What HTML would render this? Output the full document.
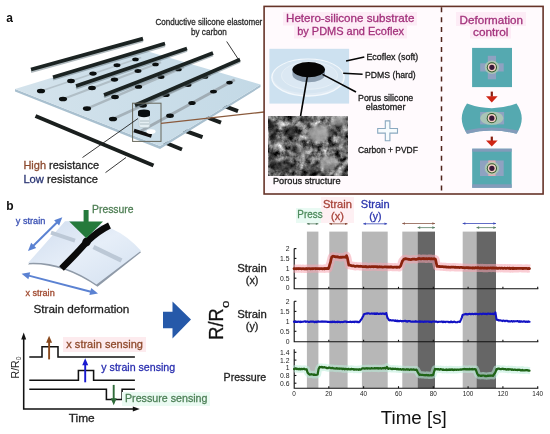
<!DOCTYPE html>
<html><head><meta charset="utf-8"><title>Figure</title>
<style>
html,body{margin:0;padding:0;background:#fff;}
body{width:550px;height:434px;overflow:hidden;}
svg{display:block;font-family:"Liberation Sans",sans-serif;filter:blur(0.5px);}
</style></head><body>
<svg width="550" height="434" viewBox="0 0 550 434">
<defs>
<filter id="sem" x="0" y="0" width="100%" height="100%" color-interpolation-filters="sRGB">
<feTurbulence type="fractalNoise" baseFrequency="0.14 0.14" numOctaves="4" seed="5" result="n"/>
<feColorMatrix in="n" type="matrix" values="1.05 1.05 0 0 -0.63  1.05 1.05 0 0 -0.63  1.05 1.05 0 0 -0.63  0 0 0 0 1"/>
</filter>
<linearGradient id="sheetg" x1="0" y1="0" x2="1" y2="0">
<stop offset="0" stop-color="#d4e3ec"/><stop offset="1" stop-color="#c3d9e6"/>
</linearGradient>
<linearGradient id="curvg" x1="0" y1="0" x2="1" y2="1">
<stop offset="0" stop-color="#cfdcee"/><stop offset="0.5" stop-color="#e6eef8"/><stop offset="1" stop-color="#d3e0f0"/>
</linearGradient>
<linearGradient id="semshade" x1="0" y1="0" x2="1" y2="0"><stop offset="0" stop-color="#000" stop-opacity="0.45"/><stop offset="0.35" stop-color="#000" stop-opacity="0.12"/><stop offset="1" stop-color="#000" stop-opacity="0.05"/></linearGradient>
<radialGradient id="semlight"><stop offset="0" stop-color="#bbb" stop-opacity="0.6"/><stop offset="1" stop-color="#bbb" stop-opacity="0"/></radialGradient>
<clipPath id="semclip"><rect x="268.7" y="116.3" width="79.1" height="59.6"/></clipPath>
<filter id="blur2" x="-20%" y="-20%" width="140%" height="140%"><feGaussianBlur stdDeviation="1.8"/></filter>
<radialGradient id="glow"><stop offset="0.55" stop-color="#bfe3b0"/><stop offset="1" stop-color="#bfe3b0" stop-opacity="0"/></radialGradient>
</defs>
<rect width="550" height="434" fill="#fff"/>

<g id="panel-a-sheet">
<line x1="35.5" y1="116" x2="153.5" y2="165.5" stroke="#1a1f1e" stroke-width="4"/>
<line x1="120" y1="124" x2="182" y2="149.5" stroke="#1a1f1e" stroke-width="4"/>
<line x1="150" y1="118" x2="202.5" y2="137.2" stroke="#1a1f1e" stroke-width="4"/>
<line x1="180" y1="107" x2="221" y2="122.6" stroke="#1a1f1e" stroke-width="4"/>
<line x1="200" y1="97" x2="238" y2="111.2" stroke="#1a1f1e" stroke-width="4"/>
<polygon points="15,89 160,146 260.5,84.6 260.5,87.1 160,149 15,91.5" fill="#a9c0cf"/>
<polygon points="15,89 143,50 260.5,84.6 160,146" fill="url(#sheetg)"/>
<line x1="41" y1="91" x2="141.2" y2="57.5" stroke="#b6c4cc" stroke-width="1.80"/>
<line x1="63" y1="99" x2="161.1" y2="62.3" stroke="#b0bec6" stroke-width="2.10"/>
<line x1="87" y1="108.6" x2="184.0" y2="67.2" stroke="#abb8c0" stroke-width="2.40"/>
<line x1="113" y1="119" x2="210.5" y2="74.5" stroke="#a5b2ba" stroke-width="2.70"/>
<line x1="141" y1="131" x2="234.8" y2="79.7" stroke="#a0acb4" stroke-width="3.00"/>
<ellipse cx="41" cy="91" rx="4.10" ry="2.30" fill="#0b0f0f"/>
<ellipse cx="71" cy="81" rx="3.89" ry="2.18" fill="#0b0f0f"/>
<ellipse cx="93" cy="73.6" rx="3.69" ry="2.07" fill="#0b0f0f"/>
<ellipse cx="117" cy="65.3" rx="3.48" ry="1.95" fill="#0b0f0f"/>
<ellipse cx="135.5" cy="59.4" rx="3.28" ry="1.84" fill="#0b0f0f"/>
<ellipse cx="63" cy="99" rx="4.10" ry="2.30" fill="#0b0f0f"/>
<ellipse cx="92" cy="88" rx="3.89" ry="2.18" fill="#0b0f0f"/>
<ellipse cx="114.5" cy="79.6" rx="3.69" ry="2.07" fill="#0b0f0f"/>
<ellipse cx="138" cy="71" rx="3.48" ry="1.95" fill="#0b0f0f"/>
<ellipse cx="155.5" cy="64.4" rx="3.28" ry="1.84" fill="#0b0f0f"/>
<ellipse cx="87" cy="108.6" rx="4.10" ry="2.30" fill="#0b0f0f"/>
<ellipse cx="115" cy="97" rx="3.89" ry="2.18" fill="#0b0f0f"/>
<ellipse cx="138.5" cy="86.8" rx="3.69" ry="2.07" fill="#0b0f0f"/>
<ellipse cx="161" cy="77" rx="3.48" ry="1.95" fill="#0b0f0f"/>
<ellipse cx="178.5" cy="69.5" rx="3.28" ry="1.84" fill="#0b0f0f"/>
<ellipse cx="113" cy="119" rx="4.10" ry="2.30" fill="#0b0f0f"/>
<ellipse cx="143" cy="105.5" rx="3.89" ry="2.18" fill="#0b0f0f"/>
<ellipse cx="166" cy="95" rx="3.69" ry="2.07" fill="#0b0f0f"/>
<ellipse cx="188" cy="85" rx="3.48" ry="1.95" fill="#0b0f0f"/>
<ellipse cx="205" cy="77" rx="3.28" ry="1.84" fill="#0b0f0f"/>
<ellipse cx="170" cy="115.7" rx="3.89" ry="2.18" fill="#0b0f0f"/>
<ellipse cx="192" cy="103" rx="3.69" ry="2.07" fill="#0b0f0f"/>
<ellipse cx="213.5" cy="91.6" rx="3.48" ry="1.95" fill="#0b0f0f"/>
<ellipse cx="229.5" cy="82.6" rx="3.28" ry="1.84" fill="#0b0f0f"/>
<line x1="31" y1="71.7" x2="143" y2="40.800000000000004" stroke="#6f8088" stroke-width="2.5" opacity="0.55"/>
<line x1="31" y1="69.5" x2="143" y2="38.6" stroke="#1b2322" stroke-width="3.7"/>
<line x1="53" y1="79.4" x2="165" y2="45.800000000000004" stroke="#6f8088" stroke-width="2.5" opacity="0.55"/>
<line x1="53" y1="77.2" x2="165" y2="43.6" stroke="#1b2322" stroke-width="3.7"/>
<line x1="76" y1="88.2" x2="187" y2="50.6" stroke="#6f8088" stroke-width="2.5" opacity="0.55"/>
<line x1="76" y1="86" x2="187" y2="48.4" stroke="#1b2322" stroke-width="3.7"/>
<line x1="104" y1="97.2" x2="213" y2="55.2" stroke="#6f8088" stroke-width="2.5" opacity="0.55"/>
<line x1="104" y1="95" x2="213" y2="53" stroke="#1b2322" stroke-width="3.7"/>
<line x1="135" y1="107.4" x2="240" y2="61.7" stroke="#6f8088" stroke-width="2.5" opacity="0.55"/>
<line x1="135" y1="105.2" x2="240" y2="59.5" stroke="#1b2322" stroke-width="3.7"/>
<line x1="134" y1="130.5" x2="151.5" y2="136" stroke="#111" stroke-width="3.6"/>
<ellipse cx="151" cy="131.6" rx="4.6" ry="2.4" fill="#fff"/>
<rect x="139" y="116" width="10.6" height="11.5" rx="2" fill="#e4eef2" stroke="#b9c7cd" stroke-width="0.6"/>
<rect x="138" y="111.6" width="12" height="3.6" fill="#0b0f0f"/><ellipse cx="144" cy="115.2" rx="6" ry="2" fill="#0b0f0f"/><ellipse cx="144" cy="111.6" rx="6" ry="2.2" fill="#0b0f0f"/>
<path d="M140,121 h9 M140,124 h9" stroke="#9fb0b8" stroke-width="0.8"/>
<rect x="132.6" y="103.2" width="28.4" height="38.2" fill="none" stroke="#66665a" stroke-width="1"/>
<line x1="161" y1="123.3" x2="264" y2="112" stroke="#8a5a3c" stroke-width="1.3"/>
<line x1="82.5" y1="157.5" x2="138" y2="118.5" stroke="#222" stroke-width="0.9"/>
<line x1="105.5" y1="172.6" x2="126" y2="157.5" stroke="#222" stroke-width="0.9"/>
<line x1="226.7" y1="41.5" x2="238.5" y2="59.5" stroke="#222" stroke-width="0.9"/>
</g>
<text x="6.3" y="21.9" font-size="12" font-weight="bold" fill="#111">a</text>
<text x="155.4" y="25.0" font-size="9.3" fill="#2a2a2a" stroke="#2a2a2a" stroke-width="0.3" font-weight="normal" textLength="106.9" lengthAdjust="spacingAndGlyphs" >Conductive silicone elastomer</text>
<text x="191.0" y="34.6" font-size="9.3" fill="#2a2a2a" stroke="#2a2a2a" stroke-width="0.3" font-weight="normal" textLength="35.7" lengthAdjust="spacingAndGlyphs" >by carbon</text>
<text x="23.4" y="168.8" font-size="11.2" textLength="75.8" lengthAdjust="spacingAndGlyphs"><tspan fill="#8c4a2f" stroke="#8c4a2f" stroke-width="0.3">High</tspan><tspan fill="#1f1f1f" stroke="#1f1f1f" stroke-width="0.3"> resistance</tspan></text>
<text x="23.4" y="182.7" font-size="11.2" textLength="74.6" lengthAdjust="spacingAndGlyphs"><tspan fill="#2b3674" stroke="#2b3674" stroke-width="0.3">Low</tspan><tspan fill="#1f1f1f" stroke="#1f1f1f" stroke-width="0.3"> resistance</tspan></text>
<g id="panel-a-box">
<rect x="264.1" y="6.4" width="279" height="187.6" fill="#fffafd" stroke="#663428" stroke-width="1.6"/>
<line x1="441.5" y1="7.3" x2="441.5" y2="192" stroke="#4e231b" stroke-width="1.5" stroke-dasharray="5 4.9"/>
<rect x="283" y="12" width="134" height="13.5" fill="#fdecf6"/>
<rect x="294" y="25.5" width="113" height="13.0" fill="#fdecf6"/>
<rect x="456" y="12" width="70" height="14" fill="#fdecf6"/>
<rect x="470" y="26" width="41" height="12.5" fill="#fdecf6"/>
<text x="286.0" y="22.4" font-size="11.2" fill="#a3327c" stroke="#a3327c" stroke-width="0.3" font-weight="normal" textLength="128.5" lengthAdjust="spacingAndGlyphs" >Hetero-silicone substrate</text>
<text x="297.2" y="35.2" font-size="11.2" fill="#a3327c" stroke="#a3327c" stroke-width="0.3" font-weight="normal" textLength="106.8" lengthAdjust="spacingAndGlyphs" >by PDMS and Ecoflex</text>
<text x="459.6" y="23.6" font-size="11.2" fill="#a3327c" stroke="#a3327c" stroke-width="0.3" font-weight="normal" textLength="63.4" lengthAdjust="spacingAndGlyphs" >Deformation</text>
<text x="473.0" y="35.7" font-size="11.2" fill="#a3327c" stroke="#a3327c" stroke-width="0.3" font-weight="normal" textLength="35.4" lengthAdjust="spacingAndGlyphs" >control</text>
<rect x="269.4" y="48.8" width="79.7" height="54.8" fill="#cde1f0"/>
<ellipse cx="308" cy="77.6" rx="36.2" ry="18.4" fill="#dfeaf4" stroke="#f3f8fc" stroke-width="1.3"/>
<ellipse cx="308" cy="76.4" rx="35" ry="17" fill="#d6e5f1"/>
<ellipse cx="309.5" cy="75.6" rx="28" ry="13.6" fill="#dbe8f3" stroke="#e9f1f8" stroke-width="0.8"/>
<path d="M292.4,69.6 V74.6 A16.3,7.7 0 0 0 325,74.6 V69.6 Z" fill="#8d9fb1"/>
<ellipse cx="308.7" cy="69.6" rx="16.3" ry="7.7" fill="#050505"/>
<line x1="307.4" y1="76" x2="300.5" y2="116.3" stroke="#050505" stroke-width="1.6"/>
<line x1="322.5" y1="74.4" x2="356" y2="92" stroke="#050505" stroke-width="1.6"/>
<line x1="346.1" y1="61.1" x2="364.3" y2="56.9" stroke="#050505" stroke-width="1.5"/>
<line x1="343.2" y1="73.3" x2="362.6" y2="74.2" stroke="#050505" stroke-width="1.5"/>
<text x="366.4" y="60.0" font-size="9.3" fill="#1a1a1a" stroke="#1a1a1a" stroke-width="0.3" font-weight="normal" textLength="51.9" lengthAdjust="spacingAndGlyphs" >Ecoflex (soft)</text>
<text x="365.0" y="77.8" font-size="9.3" fill="#1a1a1a" stroke="#1a1a1a" stroke-width="0.3" font-weight="normal" textLength="50.7" lengthAdjust="spacingAndGlyphs" >PDMS (hard)</text>
<text x="358.0" y="100.7" font-size="9.3" fill="#1a1a1a" stroke="#1a1a1a" stroke-width="0.3" font-weight="normal" textLength="55.3" lengthAdjust="spacingAndGlyphs" >Porus silicone</text>
<text x="365.8" y="110.3" font-size="9.3" fill="#1a1a1a" stroke="#1a1a1a" stroke-width="0.3" font-weight="normal" textLength="39.6" lengthAdjust="spacingAndGlyphs" >elastomer</text>
<rect x="268.7" y="116.3" width="79.1" height="59.6" fill="#666"/>
<rect x="268.7" y="116.3" width="79.1" height="59.6" filter="url(#sem)"/>
<g clip-path="url(#semclip)"><g filter="url(#blur2)">
<ellipse cx="318.9" cy="133.4" rx="11" ry="8.5" fill="#a4a4a4" opacity="0.85"/>
<ellipse cx="339" cy="121.7" rx="8" ry="5" fill="#a6a6a6" opacity="0.75"/>
<ellipse cx="328.9" cy="163.5" rx="9" ry="7" fill="#acacac" opacity="0.75"/>
<ellipse cx="277" cy="141.8" rx="3" ry="5" fill="#bbb" opacity="0.5"/>
<ellipse cx="300.5" cy="151.8" rx="6" ry="4" fill="#bbb" opacity="0.45"/>
<ellipse cx="343" cy="146" rx="5" ry="8" fill="#aaa" opacity="0.35"/>
<ellipse cx="271.5" cy="130" rx="4" ry="10" fill="#000" opacity="0.55"/>
<ellipse cx="290.4" cy="131.7" rx="8" ry="7" fill="#000" opacity="0.5"/>
<ellipse cx="332.2" cy="131.7" rx="5" ry="4" fill="#000" opacity="0.6"/>
<ellipse cx="283.7" cy="166" rx="12" ry="6" fill="#000" opacity="0.55"/>
<ellipse cx="312" cy="169" rx="8" ry="5" fill="#000" opacity="0.5"/>
<ellipse cx="293.8" cy="148.5" rx="5" ry="5" fill="#000" opacity="0.45"/>
<ellipse cx="272" cy="160" rx="4" ry="10" fill="#000" opacity="0.5"/>
<ellipse cx="305" cy="120" rx="6" ry="3" fill="#000" opacity="0.35"/>
</g></g>
<text x="272.9" y="184.0" font-size="9.3" fill="#1a1a1a" stroke="#1a1a1a" stroke-width="0.3" font-weight="normal" textLength="67.7" lengthAdjust="spacingAndGlyphs" >Porous structure</text>
<polygon points="385.3,120.9 389.9,120.9 389.9,128.5 397.5,128.5 397.5,133.1 389.9,133.1 389.9,140.7 385.3,140.7 385.3,133.1 377.7,133.1 377.7,128.5 385.3,128.5" fill="#f6fbfd" stroke="#8ba9c0" stroke-width="1.1"/>
<text x="358.0" y="152.7" font-size="9.3" fill="#1a1a1a" stroke="#1a1a1a" stroke-width="0.3" font-weight="normal" textLength="59.8" lengthAdjust="spacingAndGlyphs" >Carbon + PVDF</text>
<rect x="472.1" y="47.9" width="39.9" height="39.2" fill="#55a9b0"/>
<rect x="480.2" y="63.3" width="23.5" height="8.2" fill="#9da0c6" opacity="0.8"/><rect x="487.8" y="55.8" width="8.2" height="23.5" fill="#9da0c6" opacity="0.8"/>
<ellipse cx="491.9" cy="67.3" rx="7.2" ry="6.8" fill="#b4d4b0" opacity="0.7"/>
<circle cx="491.9" cy="67.3" r="5.1" fill="#2f5a2a"/>
<circle cx="491.9" cy="67.3" r="4.1" fill="#f0cfc4"/>
<circle cx="491.9" cy="67.3" r="2.6" fill="#3a1838"/>
<rect x="490.7" y="91.6" width="2.2" height="5.1000000000000085" fill="#8a1f10"/>
<polygon points="486.0,96.2 497.6,96.2 491.8,102.4" fill="#cf2414"/>
<rect x="490.7" y="136.6" width="2.2" height="4.5" fill="#8a1f10"/>
<polygon points="486.0,140.6 497.6,140.6 491.8,146.6" fill="#cf2414"/>
<path d="M467,103.5 Q491.8,112.8 516.5,103.5 Q527,118.6 516.5,133.7 Q491.8,127.4 467,133.7 Q456.5,118.6 467,103.5 Z" fill="#55a9b0"/>
<path d="M467,133.7 Q491.8,127.4 516.5,133.7 Q517.6,132.2 518.5,130.5 Q491.8,124.6 465,130.5 Q466,132.2 467,133.7 Z" fill="#8f97bd" opacity="0.8"/>
<rect x="480.1" y="112" width="24" height="12.4" fill="#9da0c6" opacity="0.8"/>
<ellipse cx="491.8" cy="118.2" rx="11.5" ry="6.8" fill="#b4d4b0" opacity="0.7"/>
<circle cx="491.8" cy="118.2" r="5.1" fill="#2f5a2a"/>
<circle cx="491.8" cy="118.2" r="4.1" fill="#f0cfc4"/>
<circle cx="491.8" cy="118.2" r="2.6" fill="#3a1838"/>
<rect x="472.2" y="148.7" width="39.5" height="39.1" fill="#55a9b0"/>
<rect x="472.2" y="148.7" width="39.5" height="3" fill="#8f97bd" opacity="0.8"/><rect x="472.2" y="184.3" width="39.5" height="3.5" fill="#8f97bd" opacity="0.8"/>
<rect x="480" y="160.5" width="23.7" height="15.5" fill="#9da0c6" opacity="0.8"/><rect x="488.3" y="160.5" width="7.2" height="15.5" fill="#e3a9b6"/>
<ellipse cx="491.9" cy="168.3" rx="7.2" ry="6.8" fill="#b4d4b0" opacity="0.7"/>
<circle cx="491.9" cy="168.3" r="5.1" fill="#2f5a2a"/>
<circle cx="491.9" cy="168.3" r="4.1" fill="#f0cfc4"/>
<circle cx="491.9" cy="168.3" r="2.6" fill="#3a1838"/>
</g>
<text x="6.3" y="210.2" font-size="12" font-weight="bold" fill="#111">b</text>
<g id="panel-b-left">
<path d="M28,264.4 L65,222.5 Q112,218.5 141,252.3 L97.5,286.8 Q62,262.5 28,264.4 Z" fill="#8f9aa8"/>
<path d="M28,263 L65,221.3 Q112,217.5 141,250.8 L96.5,284.5 Q62,261 28,263 Z" fill="url(#curvg)"/>
<path d="M51,232.6 L75,240.6" stroke="#bcc8d6" stroke-width="4" fill="none"/>
<path d="M93.5,247 L121.5,260.6" stroke="#bcc8d6" stroke-width="4.4" fill="none"/>
<path d="M61.5,268.5 Q80,250 86.5,242 Q98,231 109.5,225.5" stroke="#0a0a0a" stroke-width="6.6" fill="none"/>
<ellipse cx="86.5" cy="242" rx="4.2" ry="4.4" fill="#0a0a0a"/>
<polygon points="83.6,210 88.6,210 88.6,221.6 103,221.6 86.3,238.2 69.2,221.6 83.6,221.6" fill="#257a3c"/>
<line x1="32.6" y1="246.5" x2="57.7" y2="221.8" stroke="#5b82d2" stroke-width="2.0"/>
<polygon points="28.0,251.0 36.2,248.0 31.2,242.8" fill="#5b82d2"/>
<polygon points="62.3,217.3 59.1,225.5 54.1,220.3" fill="#5b82d2"/>
<line x1="27.8" y1="275.4" x2="91.8" y2="292.0" stroke="#5b82d2" stroke-width="2.0"/>
<polygon points="21.6,273.8 28.4,279.3 30.2,272.3" fill="#5b82d2"/>
<polygon points="98.0,293.6 89.4,295.1 91.2,288.1" fill="#5b82d2"/>
</g>
<text x="92.0" y="212.5" font-size="11.2" fill="#4f7f55" stroke="#4f7f55" stroke-width="0.3" font-weight="normal" textLength="41.6" lengthAdjust="spacingAndGlyphs" >Pressure</text>
<text x="15.8" y="223.5" font-size="8.8" fill="#3c52b4" stroke="#3c52b4" stroke-width="0.3" font-weight="normal" textLength="29.5" lengthAdjust="spacingAndGlyphs" >y strain</text>
<text x="25.4" y="296.2" font-size="8.8" fill="#a04a30" stroke="#a04a30" stroke-width="0.3" font-weight="normal" textLength="29.3" lengthAdjust="spacingAndGlyphs" >x strain</text>
<text x="33.4" y="313.0" font-size="11.8" fill="#1f1f1f" stroke="#1f1f1f" stroke-width="0.3" font-weight="normal" textLength="96.0" lengthAdjust="spacingAndGlyphs" >Strain deformation</text>
<g id="schematic" fill="none" stroke="#111" stroke-width="1.55">
<path d="M23.7,337 L23.7,409 L134,409"/>
<path d="M29.3,356.9 H42 V346.7 H58 V356.9 H134.9"/>
<path d="M29.3,380.3 H78.4 V370.4 H93.6 V380.3 H134.9"/>
<path d="M29.3,389.2 H106.4 V399.4 H122.1 V389.2 H134.9"/>
</g>
<polygon points="23.7,332.5 21.2,339.5 26.2,339.5" fill="#111"/><polygon points="139.8,409 132.8,406.5 132.8,411.5" fill="#111"/>
<line x1="49.1" y1="359.4" x2="49.1" y2="339.8" stroke="#8a4a1e" stroke-width="1.9"/>
<polygon points="49.1,335.8 46.1,342.8 52.1,342.8" fill="#8a4a1e"/>
<line x1="85.2" y1="382.3" x2="85.2" y2="362.2" stroke="#1a1ad0" stroke-width="1.9"/>
<polygon points="85.2,358.2 82.2,365.2 88.2,365.2" fill="#1a1ad0"/>
<line x1="113.7" y1="384.9" x2="113.7" y2="401.2" stroke="#2f6b3a" stroke-width="1.9"/>
<polygon points="113.7,405.2 110.7,398.2 116.7,398.2" fill="#2f6b3a"/>
<rect x="63" y="337" width="83" height="15" fill="#fdebee"/>
<rect x="122" y="392" width="88" height="14" fill="#eafaf2"/>
<text x="66.3" y="347.6" font-size="11.2" fill="#8f4a2c" stroke="#8f4a2c" stroke-width="0.3" font-weight="normal" textLength="76.6" lengthAdjust="spacingAndGlyphs" >x strain sensing</text>
<text x="101.3" y="371.4" font-size="11.2" fill="#2a2fb0" stroke="#2a2fb0" stroke-width="0.3" font-weight="normal" textLength="73.9" lengthAdjust="spacingAndGlyphs" >y strain sensing</text>
<text x="125.0" y="402.0" font-size="11.2" fill="#4d8057" stroke="#4d8057" stroke-width="0.3" font-weight="normal" textLength="82.5" lengthAdjust="spacingAndGlyphs" >Pressure sensing</text>
<text x="68.7" y="422.3" font-size="11.4" fill="#1f1f1f" stroke="#1f1f1f" stroke-width="0.3" font-weight="normal" textLength="26.0" lengthAdjust="spacingAndGlyphs" >Time</text>
<text transform="translate(18.6,378.5) rotate(-90)" font-size="10.6" fill="#1f1f1f" textLength="22" lengthAdjust="spacingAndGlyphs">R/R<tspan font-size="6.8" dy="2.4">0</tspan></text>
<polygon points="163,311.8 172.5,311.8 172.5,301.6 191,319.6 172.5,338.5 172.5,328.3 163,328.3" fill="#2659a9"/>
<text transform="translate(222.6,339.8) rotate(-90)" font-size="20.3" fill="#111" stroke="#111" stroke-width="0.3" textLength="31.5" lengthAdjust="spacingAndGlyphs">R/R</text>
<text transform="translate(229.4,308) rotate(-90)" font-size="9" fill="#111" stroke="#111" stroke-width="0.25" textLength="7.4" lengthAdjust="spacingAndGlyphs">0</text>
<g id="chart">
<rect x="306.9" y="231.6" width="11.5" height="156.6" fill="#b7b7b7"/>
<rect x="329.3" y="231.6" width="18.3" height="156.6" fill="#b7b7b7"/>
<rect x="361.9" y="231.6" width="25.8" height="156.6" fill="#b7b7b7"/>
<rect x="402.3" y="231.6" width="15.3" height="156.6" fill="#b7b7b7"/>
<rect x="417.6" y="231.6" width="17.4" height="156.6" fill="#666"/>
<rect x="462.7" y="231.6" width="13.8" height="156.6" fill="#b7b7b7"/>
<rect x="476.5" y="231.6" width="19.5" height="156.6" fill="#666"/>
<g stroke="#111" stroke-width="1.1" fill="none">
<path d="M294.2,248.4 V288.8 H538.3"/><path d="M294.2,301.3 V341.8 H538.3"/><path d="M294.2,349.3 V388.2 H538.3"/>
<path d="M294.2,248.6 h2.2"/>
<path d="M294.2,258.4 h2.2"/>
<path d="M294.2,268.3 h2.2"/>
<path d="M294.2,278.2 h2.2"/>
<path d="M294.2,301.3 h2.2"/>
<path d="M294.2,311.4 h2.2"/>
<path d="M294.2,321.3 h2.2"/>
<path d="M294.2,331.3 h2.2"/>
<path d="M294.2,352.3 h2.2"/>
<path d="M294.2,360.1 h2.2"/>
<path d="M294.2,367.8 h2.2"/>
<path d="M294.2,375.5 h2.2"/>
<path d="M294.2,383.2 h2.2"/>
<path d="M328.8,288.8 v-2"/>
<path d="M328.8,341.8 v-2"/>
<path d="M328.8,388.2 v-2"/>
<path d="M363.6,288.8 v-2"/>
<path d="M363.6,341.8 v-2"/>
<path d="M363.6,388.2 v-2"/>
<path d="M398.5,288.8 v-2"/>
<path d="M398.5,341.8 v-2"/>
<path d="M398.5,388.2 v-2"/>
<path d="M433.3,288.8 v-2"/>
<path d="M433.3,341.8 v-2"/>
<path d="M433.3,388.2 v-2"/>
<path d="M468.1,288.8 v-2"/>
<path d="M468.1,341.8 v-2"/>
<path d="M468.1,388.2 v-2"/>
<path d="M502.9,288.8 v-2"/>
<path d="M502.9,341.8 v-2"/>
<path d="M502.9,388.2 v-2"/>
<path d="M537.7,288.8 v-2"/>
<path d="M537.7,341.8 v-2"/>
<path d="M537.7,388.2 v-2"/>
</g>
<text x="289.5" y="251" font-size="6.8" fill="#222" text-anchor="end">2</text>
<text x="289.5" y="260.8" font-size="6.8" fill="#222" text-anchor="end">1.5</text>
<text x="289.5" y="270.7" font-size="6.8" fill="#222" text-anchor="end">1</text>
<text x="289.5" y="280.6" font-size="6.8" fill="#222" text-anchor="end">0.5</text>
<text x="289.5" y="290.4" font-size="6.8" fill="#222" text-anchor="end">0</text>
<text x="289.5" y="303.8" font-size="6.8" fill="#222" text-anchor="end">2</text>
<text x="289.5" y="313.8" font-size="6.8" fill="#222" text-anchor="end">1.5</text>
<text x="289.5" y="323.7" font-size="6.8" fill="#222" text-anchor="end">1</text>
<text x="289.5" y="333.7" font-size="6.8" fill="#222" text-anchor="end">0.5</text>
<text x="289.5" y="343.6" font-size="6.8" fill="#222" text-anchor="end">0</text>
<text x="289.5" y="354.7" font-size="6.8" fill="#222" text-anchor="end">1.4</text>
<text x="289.5" y="362.5" font-size="6.8" fill="#222" text-anchor="end">1.2</text>
<text x="289.5" y="370.2" font-size="6.8" fill="#222" text-anchor="end">1</text>
<text x="289.5" y="377.9" font-size="6.8" fill="#222" text-anchor="end">0.8</text>
<text x="289.5" y="385.6" font-size="6.8" fill="#222" text-anchor="end">0.6</text>
<text x="294.0" y="396.2" font-size="6.4" fill="#222" text-anchor="middle">0</text>
<text x="328.8" y="396.2" font-size="6.4" fill="#222" text-anchor="middle">20</text>
<text x="363.6" y="396.2" font-size="6.4" fill="#222" text-anchor="middle">40</text>
<text x="398.5" y="396.2" font-size="6.4" fill="#222" text-anchor="middle">60</text>
<text x="433.3" y="396.2" font-size="6.4" fill="#222" text-anchor="middle">80</text>
<text x="468.1" y="396.2" font-size="6.4" fill="#222" text-anchor="middle">100</text>
<text x="502.9" y="396.2" font-size="6.4" fill="#222" text-anchor="middle">120</text>
<text x="537.7" y="396.2" font-size="6.4" fill="#222" text-anchor="middle">140</text>
<path d="M294.0,268.7 L294.6,268.6 L295.2,268.9 L295.8,268.6 L296.4,268.8 L297.0,268.7 L297.6,268.6 L298.2,268.8 L298.8,268.5 L299.4,268.7 L300.1,268.5 L300.7,268.6 L301.3,268.7 L301.9,268.9 L302.5,268.6 L303.1,268.6 L303.7,268.8 L304.3,269.0 L304.9,268.8 L305.5,268.7 L306.1,269.0 L306.7,268.5 L307.3,268.9 L307.9,268.6 L308.5,268.5 L309.1,268.5 L309.7,268.6 L310.3,268.9 L310.9,268.5 L311.6,268.7 L312.2,268.8 L312.8,268.6 L313.4,268.7 L314.0,268.5 L314.6,268.5 L315.2,268.5 L315.8,268.8 L316.4,268.6 L317.0,268.6 L317.6,268.7 L318.2,268.6 L318.8,268.6 L319.4,268.8 L320.0,268.7 L320.6,268.5 L321.2,268.7 L321.8,268.7 L322.4,268.8 L323.1,268.7 L323.7,268.5 L324.3,268.9 L324.9,268.4 L325.5,268.6 L326.1,268.7 L326.7,268.4 L327.3,268.6 L327.9,268.4 L328.5,268.7 L329.2,266.5 L329.8,264.2 L330.5,262.2 L331.1,259.3 L331.8,256.9 L333.0,256.2 L333.6,256.3 L334.3,256.4 L334.9,256.7 L335.5,256.8 L336.2,256.7 L336.8,256.9 L337.5,256.7 L338.1,257.1 L338.7,257.2 L339.4,257.4 L340.0,257.5 L340.6,257.2 L341.3,257.2 L341.9,257.4 L342.6,257.0 L343.2,257.2 L343.9,257.1 L344.5,257.0 L345.2,257.0 L345.8,257.3 L346.6,255.6 L347.4,257.9 L348.1,261.4 L348.8,265.2 L349.4,264.9 L350.0,265.2 L350.7,265.4 L351.3,265.7 L351.9,265.8 L352.5,265.9 L353.1,265.7 L353.8,265.9 L354.4,266.0 L355.0,266.4 L355.6,266.5 L356.2,266.1 L356.8,266.1 L357.4,266.2 L358.0,266.2 L358.6,266.3 L359.2,266.4 L359.8,266.3 L360.4,266.2 L361.0,266.4 L361.6,266.4 L362.2,266.5 L362.8,266.7 L363.4,266.6 L364.0,266.6 L364.6,266.6 L365.2,266.7 L365.8,266.4 L366.4,266.9 L367.0,266.8 L367.6,266.9 L368.2,266.9 L368.8,266.7 L369.4,266.7 L370.0,266.6 L370.6,266.9 L371.2,266.6 L371.8,266.6 L372.4,266.7 L373.1,266.7 L373.7,266.8 L374.3,266.6 L374.9,266.6 L375.5,266.7 L376.1,266.7 L376.7,266.8 L377.3,266.7 L377.9,267.1 L378.5,267.0 L379.2,266.7 L379.8,266.8 L380.4,266.9 L381.0,266.9 L381.6,266.8 L382.2,267.1 L382.8,267.2 L383.4,267.0 L384.0,267.0 L384.6,266.8 L385.3,266.8 L385.9,266.9 L386.5,266.9 L387.1,267.2 L387.7,266.9 L388.3,266.8 L388.9,267.3 L389.5,267.1 L390.1,266.9 L390.8,267.1 L391.4,266.9 L392.0,267.1 L392.6,267.3 L393.2,267.3 L393.8,267.2 L394.4,267.0 L395.0,267.1 L395.6,267.0 L396.2,267.3 L396.9,267.2 L397.5,267.3 L398.1,267.1 L398.7,267.1 L399.3,267.4 L400.1,266.6 L400.8,265.7 L401.6,263.2 L402.5,260.7 L403.2,260.1 L403.8,259.2 L404.5,258.8 L405.1,258.8 L405.7,258.7 L406.3,258.8 L406.9,259.0 L407.6,259.0 L408.2,259.3 L408.8,259.5 L409.4,259.3 L410.0,259.6 L410.6,259.6 L411.3,259.6 L411.9,259.3 L412.5,259.2 L413.2,259.2 L413.8,259.1 L414.5,259.1 L415.1,259.3 L415.7,259.4 L416.4,259.4 L417.0,259.2 L418.0,258.7 L418.6,258.8 L419.2,258.4 L419.8,258.7 L420.4,258.8 L421.1,258.8 L421.7,258.8 L422.3,258.6 L422.9,258.5 L423.5,258.8 L424.1,258.6 L424.7,258.8 L425.3,258.9 L425.9,258.6 L426.6,258.7 L427.2,258.9 L427.8,258.8 L428.4,258.6 L429.0,258.5 L429.6,258.6 L430.2,259.0 L430.8,258.9 L431.4,258.6 L432.1,258.9 L432.7,259.0 L433.3,258.9 L433.9,258.7 L434.5,258.8 L435.5,259.3 L436.2,262.6 L437.0,266.4 L437.6,266.3 L438.2,266.3 L438.8,266.6 L439.5,266.4 L440.1,266.7 L440.7,266.7 L441.3,266.5 L441.9,266.6 L442.5,266.7 L443.2,266.7 L443.8,266.9 L444.4,266.8 L445.0,267.0 L445.6,266.8 L446.2,267.2 L446.8,267.0 L447.4,267.1 L448.0,267.1 L448.7,267.3 L449.3,267.1 L449.9,267.4 L450.5,267.2 L451.1,267.2 L451.7,267.2 L452.3,267.0 L452.9,267.2 L453.5,267.1 L454.1,267.0 L454.8,267.5 L455.4,267.2 L456.0,267.3 L456.6,267.5 L457.2,267.4 L457.8,267.3 L458.4,267.4 L459.0,267.5 L459.6,267.6 L460.2,267.3 L460.9,267.5 L461.5,267.4 L462.1,267.4 L462.7,267.7 L463.3,267.6 L463.9,267.6 L464.5,267.8 L465.1,267.9 L465.7,267.6 L466.3,267.7 L467.0,267.7 L467.6,267.7 L468.2,267.8 L468.8,267.7 L469.4,267.8 L470.0,267.8 L470.6,268.0 L471.2,267.9 L471.8,268.0 L472.4,268.1 L473.0,267.7 L473.6,267.9 L474.2,268.1 L474.8,268.0 L475.4,267.7 L476.0,267.7 L476.6,267.9 L477.2,267.7 L477.8,267.8 L478.4,267.7 L479.0,268.0 L479.6,268.1 L480.2,268.1 L480.8,267.8 L481.4,268.1 L482.0,268.0 L482.6,267.8 L483.2,268.2 L483.8,268.2 L484.4,267.9 L485.0,268.2 L485.6,268.0 L486.2,268.0 L486.8,268.3 L487.4,268.2 L488.0,267.9 L488.6,268.0 L489.2,268.1 L489.8,268.0 L490.4,267.9 L491.0,268.0 L491.6,268.2 L492.2,267.9 L492.8,268.1 L493.4,268.1 L494.0,267.9 L494.6,268.0 L495.2,268.2 L495.8,268.2 L496.4,267.9 L497.0,268.4 L497.6,268.3 L498.2,268.4 L498.8,268.0 L499.4,268.1 L500.1,268.0 L500.7,268.4 L501.3,268.1 L501.9,268.0 L502.5,268.2 L503.1,268.5 L503.7,268.4 L504.3,268.1 L504.9,268.1 L505.5,268.5 L506.1,268.3 L506.7,268.4 L507.3,268.1 L507.9,268.1 L508.5,268.4 L509.1,268.3 L509.7,268.1 L510.3,268.6 L510.9,268.4 L511.5,268.5 L512.1,268.2 L512.7,268.6 L513.3,268.2 L513.9,268.6 L514.5,268.4 L515.1,268.3 L515.7,268.4 L516.3,268.6 L516.9,268.3 L517.5,268.3 L518.1,268.5 L518.7,268.3 L519.3,268.3 L519.9,268.3 L520.5,268.3 L521.1,268.3 L521.7,268.4 L522.3,268.4 L522.9,268.6 L523.5,268.4 L524.1,268.5 L524.7,268.4 L525.3,268.5 L525.9,268.3 L526.5,268.4 L527.1,268.3 L527.7,268.7 L528.3,268.6 L528.9,268.4 L529.5,268.6" fill="none" stroke="#f6a3ae" stroke-width="8" stroke-linejoin="round" opacity="0.55"/>
<path d="M294.0,268.7 L294.6,268.6 L295.2,268.9 L295.8,268.6 L296.4,268.8 L297.0,268.7 L297.6,268.6 L298.2,268.8 L298.8,268.5 L299.4,268.7 L300.1,268.5 L300.7,268.6 L301.3,268.7 L301.9,268.9 L302.5,268.6 L303.1,268.6 L303.7,268.8 L304.3,269.0 L304.9,268.8 L305.5,268.7 L306.1,269.0 L306.7,268.5 L307.3,268.9 L307.9,268.6 L308.5,268.5 L309.1,268.5 L309.7,268.6 L310.3,268.9 L310.9,268.5 L311.6,268.7 L312.2,268.8 L312.8,268.6 L313.4,268.7 L314.0,268.5 L314.6,268.5 L315.2,268.5 L315.8,268.8 L316.4,268.6 L317.0,268.6 L317.6,268.7 L318.2,268.6 L318.8,268.6 L319.4,268.8 L320.0,268.7 L320.6,268.5 L321.2,268.7 L321.8,268.7 L322.4,268.8 L323.1,268.7 L323.7,268.5 L324.3,268.9 L324.9,268.4 L325.5,268.6 L326.1,268.7 L326.7,268.4 L327.3,268.6 L327.9,268.4 L328.5,268.7 L329.2,266.5 L329.8,264.2 L330.5,262.2 L331.1,259.3 L331.8,256.9 L333.0,256.2 L333.6,256.3 L334.3,256.4 L334.9,256.7 L335.5,256.8 L336.2,256.7 L336.8,256.9 L337.5,256.7 L338.1,257.1 L338.7,257.2 L339.4,257.4 L340.0,257.5 L340.6,257.2 L341.3,257.2 L341.9,257.4 L342.6,257.0 L343.2,257.2 L343.9,257.1 L344.5,257.0 L345.2,257.0 L345.8,257.3 L346.6,255.6 L347.4,257.9 L348.1,261.4 L348.8,265.2 L349.4,264.9 L350.0,265.2 L350.7,265.4 L351.3,265.7 L351.9,265.8 L352.5,265.9 L353.1,265.7 L353.8,265.9 L354.4,266.0 L355.0,266.4 L355.6,266.5 L356.2,266.1 L356.8,266.1 L357.4,266.2 L358.0,266.2 L358.6,266.3 L359.2,266.4 L359.8,266.3 L360.4,266.2 L361.0,266.4 L361.6,266.4 L362.2,266.5 L362.8,266.7 L363.4,266.6 L364.0,266.6 L364.6,266.6 L365.2,266.7 L365.8,266.4 L366.4,266.9 L367.0,266.8 L367.6,266.9 L368.2,266.9 L368.8,266.7 L369.4,266.7 L370.0,266.6 L370.6,266.9 L371.2,266.6 L371.8,266.6 L372.4,266.7 L373.1,266.7 L373.7,266.8 L374.3,266.6 L374.9,266.6 L375.5,266.7 L376.1,266.7 L376.7,266.8 L377.3,266.7 L377.9,267.1 L378.5,267.0 L379.2,266.7 L379.8,266.8 L380.4,266.9 L381.0,266.9 L381.6,266.8 L382.2,267.1 L382.8,267.2 L383.4,267.0 L384.0,267.0 L384.6,266.8 L385.3,266.8 L385.9,266.9 L386.5,266.9 L387.1,267.2 L387.7,266.9 L388.3,266.8 L388.9,267.3 L389.5,267.1 L390.1,266.9 L390.8,267.1 L391.4,266.9 L392.0,267.1 L392.6,267.3 L393.2,267.3 L393.8,267.2 L394.4,267.0 L395.0,267.1 L395.6,267.0 L396.2,267.3 L396.9,267.2 L397.5,267.3 L398.1,267.1 L398.7,267.1 L399.3,267.4 L400.1,266.6 L400.8,265.7 L401.6,263.2 L402.5,260.7 L403.2,260.1 L403.8,259.2 L404.5,258.8 L405.1,258.8 L405.7,258.7 L406.3,258.8 L406.9,259.0 L407.6,259.0 L408.2,259.3 L408.8,259.5 L409.4,259.3 L410.0,259.6 L410.6,259.6 L411.3,259.6 L411.9,259.3 L412.5,259.2 L413.2,259.2 L413.8,259.1 L414.5,259.1 L415.1,259.3 L415.7,259.4 L416.4,259.4 L417.0,259.2 L418.0,258.7 L418.6,258.8 L419.2,258.4 L419.8,258.7 L420.4,258.8 L421.1,258.8 L421.7,258.8 L422.3,258.6 L422.9,258.5 L423.5,258.8 L424.1,258.6 L424.7,258.8 L425.3,258.9 L425.9,258.6 L426.6,258.7 L427.2,258.9 L427.8,258.8 L428.4,258.6 L429.0,258.5 L429.6,258.6 L430.2,259.0 L430.8,258.9 L431.4,258.6 L432.1,258.9 L432.7,259.0 L433.3,258.9 L433.9,258.7 L434.5,258.8 L435.5,259.3 L436.2,262.6 L437.0,266.4 L437.6,266.3 L438.2,266.3 L438.8,266.6 L439.5,266.4 L440.1,266.7 L440.7,266.7 L441.3,266.5 L441.9,266.6 L442.5,266.7 L443.2,266.7 L443.8,266.9 L444.4,266.8 L445.0,267.0 L445.6,266.8 L446.2,267.2 L446.8,267.0 L447.4,267.1 L448.0,267.1 L448.7,267.3 L449.3,267.1 L449.9,267.4 L450.5,267.2 L451.1,267.2 L451.7,267.2 L452.3,267.0 L452.9,267.2 L453.5,267.1 L454.1,267.0 L454.8,267.5 L455.4,267.2 L456.0,267.3 L456.6,267.5 L457.2,267.4 L457.8,267.3 L458.4,267.4 L459.0,267.5 L459.6,267.6 L460.2,267.3 L460.9,267.5 L461.5,267.4 L462.1,267.4 L462.7,267.7 L463.3,267.6 L463.9,267.6 L464.5,267.8 L465.1,267.9 L465.7,267.6 L466.3,267.7 L467.0,267.7 L467.6,267.7 L468.2,267.8 L468.8,267.7 L469.4,267.8 L470.0,267.8 L470.6,268.0 L471.2,267.9 L471.8,268.0 L472.4,268.1 L473.0,267.7 L473.6,267.9 L474.2,268.1 L474.8,268.0 L475.4,267.7 L476.0,267.7 L476.6,267.9 L477.2,267.7 L477.8,267.8 L478.4,267.7 L479.0,268.0 L479.6,268.1 L480.2,268.1 L480.8,267.8 L481.4,268.1 L482.0,268.0 L482.6,267.8 L483.2,268.2 L483.8,268.2 L484.4,267.9 L485.0,268.2 L485.6,268.0 L486.2,268.0 L486.8,268.3 L487.4,268.2 L488.0,267.9 L488.6,268.0 L489.2,268.1 L489.8,268.0 L490.4,267.9 L491.0,268.0 L491.6,268.2 L492.2,267.9 L492.8,268.1 L493.4,268.1 L494.0,267.9 L494.6,268.0 L495.2,268.2 L495.8,268.2 L496.4,267.9 L497.0,268.4 L497.6,268.3 L498.2,268.4 L498.8,268.0 L499.4,268.1 L500.1,268.0 L500.7,268.4 L501.3,268.1 L501.9,268.0 L502.5,268.2 L503.1,268.5 L503.7,268.4 L504.3,268.1 L504.9,268.1 L505.5,268.5 L506.1,268.3 L506.7,268.4 L507.3,268.1 L507.9,268.1 L508.5,268.4 L509.1,268.3 L509.7,268.1 L510.3,268.6 L510.9,268.4 L511.5,268.5 L512.1,268.2 L512.7,268.6 L513.3,268.2 L513.9,268.6 L514.5,268.4 L515.1,268.3 L515.7,268.4 L516.3,268.6 L516.9,268.3 L517.5,268.3 L518.1,268.5 L518.7,268.3 L519.3,268.3 L519.9,268.3 L520.5,268.3 L521.1,268.3 L521.7,268.4 L522.3,268.4 L522.9,268.6 L523.5,268.4 L524.1,268.5 L524.7,268.4 L525.3,268.5 L525.9,268.3 L526.5,268.4 L527.1,268.3 L527.7,268.7 L528.3,268.6 L528.9,268.4 L529.5,268.6" fill="none" stroke="#8a220c" stroke-width="2.7" stroke-linejoin="round" stroke-linecap="round"/>
<path d="M294.0,321.7 L294.6,322.0 L295.2,321.4 L295.8,321.9 L296.4,321.7 L297.0,321.7 L297.6,321.9 L298.2,321.6 L298.8,321.7 L299.4,321.8 L300.0,322.1 L300.6,321.6 L301.2,322.0 L301.8,321.9 L302.4,321.8 L303.0,321.7 L303.6,321.6 L304.2,321.4 L304.8,321.5 L305.4,321.4 L306.0,321.9 L306.6,321.6 L307.2,321.5 L307.8,321.5 L308.4,322.0 L309.0,322.0 L309.6,321.9 L310.2,321.6 L310.8,321.6 L311.4,321.6 L312.0,321.7 L312.6,321.5 L313.2,321.7 L313.8,321.6 L314.4,322.1 L315.0,322.1 L315.6,321.8 L316.2,321.6 L316.8,322.1 L317.4,321.6 L318.0,321.7 L318.6,321.4 L319.2,321.7 L319.8,321.8 L320.4,321.8 L321.0,321.6 L321.6,321.8 L322.2,321.4 L322.8,321.6 L323.4,321.5 L324.0,321.7 L324.6,321.5 L325.2,321.5 L325.8,321.7 L326.4,321.6 L327.1,321.9 L327.7,321.8 L328.3,322.0 L328.9,321.9 L329.5,322.0 L330.1,322.1 L330.7,321.7 L331.3,321.7 L331.9,322.2 L332.5,321.6 L333.1,322.0 L333.7,321.9 L334.3,321.5 L334.9,322.1 L335.5,322.1 L336.1,321.9 L336.7,322.0 L337.3,322.1 L337.9,321.6 L338.5,321.9 L339.1,321.8 L339.7,322.1 L340.3,322.1 L340.9,322.1 L341.5,321.9 L342.1,322.1 L342.7,322.0 L343.3,322.0 L343.9,321.7 L344.5,321.5 L345.1,321.6 L345.7,321.8 L346.3,321.6 L346.9,322.1 L347.5,321.9 L348.1,322.0 L348.7,322.0 L349.3,322.0 L349.9,321.9 L350.5,321.5 L351.1,322.1 L351.7,322.0 L352.3,321.9 L352.9,321.9 L353.5,322.0 L354.1,321.6 L354.7,322.1 L355.3,321.7 L355.9,321.6 L356.5,321.7 L357.1,322.1 L357.7,321.7 L358.3,322.1 L358.9,322.2 L359.5,321.9 L360.2,320.9 L360.8,320.0 L361.5,319.1 L362.1,318.1 L362.8,316.8 L363.4,315.7 L364.0,314.2 L364.7,313.9 L365.3,313.7 L366.0,313.7 L366.6,313.4 L367.2,313.6 L367.8,313.2 L368.4,313.2 L369.1,313.4 L369.7,313.7 L370.3,313.7 L370.9,313.7 L371.5,313.4 L372.1,313.6 L372.7,313.6 L373.4,313.6 L374.0,313.4 L374.6,313.9 L375.2,313.4 L375.8,314.0 L376.4,314.0 L377.0,313.3 L377.6,313.6 L378.2,313.9 L378.9,314.0 L379.5,313.7 L380.1,313.6 L380.7,313.5 L381.3,314.0 L381.9,313.5 L382.5,313.8 L383.2,313.5 L383.8,313.8 L384.4,314.1 L385.0,313.5 L385.6,314.0 L386.2,313.0 L386.9,315.8 L387.5,318.1 L388.2,318.6 L388.8,319.9 L389.5,320.4 L390.1,320.1 L390.7,320.1 L391.4,320.5 L392.0,320.5 L392.6,320.4 L393.2,320.4 L393.8,320.5 L394.4,320.6 L395.1,321.0 L395.7,320.4 L396.3,321.0 L396.9,321.1 L397.5,320.6 L398.1,321.2 L398.8,321.1 L399.4,321.2 L400.0,320.9 L400.6,320.9 L401.2,321.0 L401.8,321.4 L402.4,321.1 L403.0,321.0 L403.6,321.1 L404.2,321.0 L404.9,320.9 L405.5,320.9 L406.1,321.4 L406.7,321.1 L407.3,321.6 L407.9,321.1 L408.5,321.1 L409.1,321.3 L409.7,321.1 L410.3,321.3 L410.9,321.7 L411.5,321.7 L412.1,321.6 L412.8,321.5 L413.4,321.8 L414.0,321.8 L414.6,321.5 L415.2,321.7 L415.8,321.2 L416.4,321.7 L417.0,321.6 L417.6,321.8 L418.2,321.7 L418.8,321.5 L419.4,321.3 L420.0,321.9 L420.6,321.4 L421.2,321.6 L421.8,321.5 L422.4,321.5 L423.0,321.8 L423.6,322.0 L424.2,321.5 L424.8,321.8 L425.4,321.5 L426.0,321.7 L426.6,321.6 L427.2,321.5 L427.9,321.5 L428.5,321.5 L429.1,322.0 L429.7,321.7 L430.3,321.5 L430.9,322.0 L431.5,322.1 L432.1,321.7 L432.7,321.5 L433.3,321.5 L433.9,321.5 L434.5,321.7 L435.1,321.5 L435.7,321.6 L436.3,321.6 L436.9,321.8 L437.5,322.1 L438.1,322.0 L438.7,321.7 L439.3,321.7 L439.9,321.8 L440.5,321.7 L441.1,321.7 L441.7,321.5 L442.3,321.7 L442.9,322.2 L443.5,321.6 L444.1,321.9 L444.7,321.9 L445.3,322.1 L445.9,321.7 L446.5,321.7 L447.1,321.7 L447.7,321.8 L448.3,321.9 L448.9,322.2 L449.6,322.1 L450.2,322.2 L450.8,321.6 L451.4,321.6 L452.0,322.1 L452.6,322.2 L453.2,321.9 L453.8,322.0 L454.4,321.6 L455.0,321.9 L455.6,322.3 L456.2,322.2 L456.8,322.2 L457.4,322.3 L458.0,321.8 L458.6,321.7 L459.2,321.8 L459.8,322.0 L461.0,319.6 L461.8,317.6 L462.5,315.2 L463.2,314.7 L464.0,314.4 L464.6,314.2 L465.2,314.2 L465.8,313.8 L466.4,314.4 L467.0,314.0 L467.6,314.4 L468.2,314.2 L468.8,314.0 L469.4,313.8 L470.0,313.9 L470.6,314.2 L471.2,314.2 L471.8,313.8 L472.4,313.8 L473.0,314.1 L473.6,314.1 L474.2,314.0 L474.8,313.8 L475.4,314.1 L476.0,313.7 L476.6,313.9 L477.2,314.0 L477.8,314.3 L478.4,314.1 L479.0,314.2 L479.6,313.9 L480.2,313.8 L480.9,313.8 L481.5,314.3 L482.1,314.1 L482.7,313.8 L483.3,313.6 L483.9,313.9 L484.5,314.0 L485.1,313.8 L485.7,313.7 L486.3,314.0 L486.9,314.2 L487.5,313.7 L488.1,313.5 L488.7,313.8 L489.3,313.8 L489.9,314.0 L490.6,313.6 L491.2,314.0 L491.8,314.0 L492.4,313.8 L493.0,313.6 L493.6,314.1 L494.2,313.7 L494.8,314.0 L495.4,312.4 L496.5,319.4 L497.2,320.0 L497.9,319.9 L498.6,320.5 L499.3,320.4 L500.0,320.4 L500.6,320.4 L501.2,320.6 L501.9,320.8 L502.5,321.1 L503.1,320.5 L503.8,320.8 L504.4,320.7 L505.0,321.2 L505.6,320.7 L506.2,320.7 L506.9,320.7 L507.5,321.0 L508.1,321.4 L508.8,321.4 L509.4,321.3 L510.0,321.5 L510.6,321.5 L511.2,321.1 L511.8,321.0 L512.4,321.6 L513.0,321.5 L513.7,321.0 L514.3,321.4 L514.9,321.3 L515.5,321.3 L516.1,321.3 L516.7,321.2 L517.3,321.1 L517.9,321.3 L518.5,321.4 L519.1,321.8 L519.8,321.2 L520.4,321.8 L521.0,321.3 L521.6,321.5 L522.2,321.8 L522.8,321.8 L523.4,321.6 L524.0,321.3 L524.6,321.6 L525.2,321.6 L525.8,322.0 L526.5,321.5 L527.1,321.6 L527.7,322.0 L528.3,321.4 L528.9,321.7 L529.5,321.8" fill="none" stroke="#1212c4" stroke-width="2.1" stroke-linejoin="round" stroke-linecap="round"/>
<path d="M294.0,369.1 L294.6,369.1 L295.2,368.6 L295.8,368.6 L296.4,368.6 L297.0,369.2 L297.6,368.8 L298.2,369.1 L298.8,369.3 L299.4,368.9 L300.0,368.8 L300.6,369.3 L301.2,369.1 L301.8,368.9 L302.4,369.2 L303.0,368.9 L303.6,368.9 L304.2,368.7 L304.8,369.3 L305.4,369.4 L306.0,369.2 L306.6,369.4 L307.6,372.7 L308.3,373.4 L309.0,374.2 L309.6,374.6 L310.3,374.6 L310.9,374.3 L311.5,374.2 L312.2,374.4 L312.8,374.5 L313.5,374.9 L314.1,374.4 L314.7,374.9 L315.4,374.9 L316.0,375.0 L316.8,374.8 L317.6,374.5 L318.6,368.9 L319.6,366.9 L320.3,367.0 L321.0,367.3 L321.6,366.9 L322.3,367.1 L323.0,367.6 L323.6,367.3 L324.3,367.2 L325.0,367.3 L325.6,367.7 L326.2,367.6 L326.8,368.1 L327.4,368.0 L328.0,368.2 L328.6,367.7 L329.2,367.6 L329.8,367.7 L330.4,368.0 L331.0,368.2 L331.6,368.0 L332.2,367.9 L332.8,368.1 L333.4,368.3 L334.0,368.4 L334.6,368.5 L335.2,368.6 L335.8,368.5 L336.4,368.2 L337.0,368.7 L337.6,368.4 L338.2,368.6 L338.8,368.5 L339.4,368.8 L340.0,368.5 L340.6,368.5 L341.2,368.6 L341.8,368.5 L342.4,369.1 L343.0,368.9 L343.6,368.7 L344.2,368.8 L344.8,369.3 L345.4,368.9 L346.0,368.8 L346.6,369.2 L347.2,369.1 L347.8,369.4 L348.4,368.8 L349.0,369.1 L349.6,369.3 L350.2,369.4 L350.8,369.5 L351.4,368.9 L352.0,369.1 L352.6,369.0 L353.2,369.0 L353.8,369.6 L354.4,369.4 L355.0,369.6 L355.6,369.3 L356.2,369.7 L356.8,369.4 L357.4,369.3 L358.0,369.7 L358.6,369.8 L359.2,369.2 L359.8,369.6 L360.4,369.7 L361.0,369.4 L362.0,368.5 L362.6,368.3 L363.2,368.4 L363.9,368.4 L364.5,368.6 L365.1,368.7 L365.7,368.3 L366.3,368.2 L367.0,368.4 L367.6,368.6 L368.2,368.3 L368.8,368.4 L369.4,368.3 L370.0,368.7 L370.7,368.5 L371.3,368.2 L371.9,368.2 L372.5,368.4 L373.1,368.5 L373.8,368.5 L374.4,368.1 L375.0,368.2 L375.6,368.5 L376.2,368.3 L376.8,368.2 L377.4,368.2 L378.1,368.7 L378.7,368.2 L379.3,368.4 L379.9,368.2 L380.5,368.2 L381.1,368.5 L381.7,368.6 L382.3,368.2 L382.9,368.0 L383.6,368.4 L384.2,368.0 L384.8,367.9 L385.4,368.5 L386.0,368.1 L386.9,366.8 L387.8,368.5 L388.4,368.9 L389.0,368.6 L389.6,368.5 L390.2,368.4 L390.9,368.8 L391.5,368.9 L392.1,369.1 L392.7,368.6 L393.3,369.0 L393.9,368.8 L394.5,368.9 L395.1,368.7 L395.7,368.8 L396.3,369.0 L396.9,369.3 L397.6,368.8 L398.2,369.1 L398.8,369.4 L399.4,369.5 L400.0,369.0 L400.6,369.0 L401.2,369.6 L401.8,369.6 L402.5,369.3 L403.1,369.0 L403.7,369.6 L404.3,369.3 L404.9,369.7 L405.5,369.5 L406.1,369.6 L406.8,369.2 L407.4,369.7 L408.0,369.3 L408.6,369.4 L409.2,369.8 L409.8,369.8 L410.5,369.4 L411.1,369.4 L411.7,369.6 L412.3,369.7 L412.9,369.6 L413.5,369.4 L414.1,369.5 L414.8,369.9 L415.4,370.0 L416.0,369.5 L416.6,369.8 L417.8,372.2 L419.0,374.3 L419.6,374.9 L420.2,374.5 L420.8,374.8 L421.4,374.9 L422.0,375.0 L422.6,374.8 L423.2,375.0 L423.8,375.1 L424.4,375.1 L425.0,375.3 L425.6,375.2 L426.2,375.2 L426.8,374.9 L427.5,375.3 L428.1,375.3 L428.7,375.1 L429.3,375.5 L429.9,375.5 L430.5,375.3 L431.2,375.1 L431.8,375.4 L432.4,375.1 L433.0,375.1 L434.0,372.0 L435.0,368.9 L435.6,369.2 L436.2,369.3 L436.9,369.0 L437.5,369.4 L438.1,369.0 L438.8,369.5 L439.4,369.6 L440.0,369.4 L440.6,369.1 L441.2,369.5 L441.9,369.4 L442.5,369.8 L443.1,369.3 L443.8,369.8 L444.4,369.9 L445.0,369.8 L445.6,369.8 L446.2,369.4 L446.8,370.0 L447.4,369.6 L448.0,370.0 L448.6,369.9 L449.2,369.4 L449.8,369.9 L450.4,370.0 L451.0,369.4 L451.6,369.6 L452.2,369.9 L452.8,369.5 L453.4,370.0 L454.0,369.6 L454.6,369.9 L455.2,369.5 L455.8,369.7 L456.4,370.0 L457.0,369.6 L457.6,369.6 L458.2,369.8 L458.8,369.7 L459.4,369.5 L460.0,369.6 L460.7,369.4 L461.3,369.7 L462.0,369.3 L462.6,369.5 L463.2,369.0 L463.9,369.4 L464.5,368.9 L465.1,369.2 L465.7,369.3 L466.3,369.1 L466.9,369.5 L467.6,369.2 L468.2,369.3 L468.8,369.5 L469.4,368.9 L470.0,369.5 L470.7,369.3 L471.3,369.1 L471.9,369.4 L472.5,369.0 L473.1,369.5 L473.7,369.3 L474.4,369.1 L475.0,369.4 L475.6,369.2 L476.6,371.8 L477.3,373.8 L478.0,375.0 L478.6,375.6 L479.3,375.3 L479.9,375.6 L480.5,375.9 L481.2,375.7 L481.8,375.8 L482.5,375.6 L483.1,375.5 L483.7,375.5 L484.4,375.7 L485.0,376.1 L485.6,375.9 L486.2,376.0 L486.8,376.2 L487.5,375.7 L488.1,375.7 L488.7,376.0 L489.3,375.6 L489.9,375.5 L490.5,375.8 L491.2,375.6 L491.8,375.7 L492.4,375.6 L493.0,375.9 L493.7,374.9 L494.3,373.7 L495.0,373.1 L495.8,371.2 L496.5,369.1 L497.2,369.4 L498.0,368.6 L498.6,368.6 L499.2,368.6 L499.8,369.0 L500.4,369.2 L501.0,369.2 L501.6,368.9 L502.2,368.9 L502.8,368.7 L503.4,369.2 L504.0,369.2 L504.6,369.1 L505.2,369.3 L505.8,369.2 L506.4,369.6 L507.0,369.5 L507.6,369.2 L508.2,369.7 L508.8,369.1 L509.4,369.5 L510.0,369.4 L510.6,369.4 L511.2,369.3 L511.8,369.8 L512.4,369.3 L513.0,369.7 L513.7,370.0 L514.3,369.5 L514.9,369.6 L515.5,369.9 L516.1,369.8 L516.7,370.0 L517.3,370.1 L517.9,369.7 L518.5,369.8 L519.1,369.9 L519.8,369.7 L520.4,370.4 L521.0,370.3 L521.6,370.3 L522.2,369.8 L522.8,370.5 L523.4,370.4 L524.0,370.3 L524.6,370.5 L525.2,370.3 L525.8,370.2 L526.5,370.2 L527.1,370.3 L527.7,370.2 L528.3,370.4 L528.9,370.7 L529.5,370.6" fill="none" stroke="#b9ecd9" stroke-width="7" stroke-linejoin="round" opacity="0.55"/>
<path d="M294.0,369.1 L294.6,369.1 L295.2,368.6 L295.8,368.6 L296.4,368.6 L297.0,369.2 L297.6,368.8 L298.2,369.1 L298.8,369.3 L299.4,368.9 L300.0,368.8 L300.6,369.3 L301.2,369.1 L301.8,368.9 L302.4,369.2 L303.0,368.9 L303.6,368.9 L304.2,368.7 L304.8,369.3 L305.4,369.4 L306.0,369.2 L306.6,369.4 L307.6,372.7 L308.3,373.4 L309.0,374.2 L309.6,374.6 L310.3,374.6 L310.9,374.3 L311.5,374.2 L312.2,374.4 L312.8,374.5 L313.5,374.9 L314.1,374.4 L314.7,374.9 L315.4,374.9 L316.0,375.0 L316.8,374.8 L317.6,374.5 L318.6,368.9 L319.6,366.9 L320.3,367.0 L321.0,367.3 L321.6,366.9 L322.3,367.1 L323.0,367.6 L323.6,367.3 L324.3,367.2 L325.0,367.3 L325.6,367.7 L326.2,367.6 L326.8,368.1 L327.4,368.0 L328.0,368.2 L328.6,367.7 L329.2,367.6 L329.8,367.7 L330.4,368.0 L331.0,368.2 L331.6,368.0 L332.2,367.9 L332.8,368.1 L333.4,368.3 L334.0,368.4 L334.6,368.5 L335.2,368.6 L335.8,368.5 L336.4,368.2 L337.0,368.7 L337.6,368.4 L338.2,368.6 L338.8,368.5 L339.4,368.8 L340.0,368.5 L340.6,368.5 L341.2,368.6 L341.8,368.5 L342.4,369.1 L343.0,368.9 L343.6,368.7 L344.2,368.8 L344.8,369.3 L345.4,368.9 L346.0,368.8 L346.6,369.2 L347.2,369.1 L347.8,369.4 L348.4,368.8 L349.0,369.1 L349.6,369.3 L350.2,369.4 L350.8,369.5 L351.4,368.9 L352.0,369.1 L352.6,369.0 L353.2,369.0 L353.8,369.6 L354.4,369.4 L355.0,369.6 L355.6,369.3 L356.2,369.7 L356.8,369.4 L357.4,369.3 L358.0,369.7 L358.6,369.8 L359.2,369.2 L359.8,369.6 L360.4,369.7 L361.0,369.4 L362.0,368.5 L362.6,368.3 L363.2,368.4 L363.9,368.4 L364.5,368.6 L365.1,368.7 L365.7,368.3 L366.3,368.2 L367.0,368.4 L367.6,368.6 L368.2,368.3 L368.8,368.4 L369.4,368.3 L370.0,368.7 L370.7,368.5 L371.3,368.2 L371.9,368.2 L372.5,368.4 L373.1,368.5 L373.8,368.5 L374.4,368.1 L375.0,368.2 L375.6,368.5 L376.2,368.3 L376.8,368.2 L377.4,368.2 L378.1,368.7 L378.7,368.2 L379.3,368.4 L379.9,368.2 L380.5,368.2 L381.1,368.5 L381.7,368.6 L382.3,368.2 L382.9,368.0 L383.6,368.4 L384.2,368.0 L384.8,367.9 L385.4,368.5 L386.0,368.1 L386.9,366.8 L387.8,368.5 L388.4,368.9 L389.0,368.6 L389.6,368.5 L390.2,368.4 L390.9,368.8 L391.5,368.9 L392.1,369.1 L392.7,368.6 L393.3,369.0 L393.9,368.8 L394.5,368.9 L395.1,368.7 L395.7,368.8 L396.3,369.0 L396.9,369.3 L397.6,368.8 L398.2,369.1 L398.8,369.4 L399.4,369.5 L400.0,369.0 L400.6,369.0 L401.2,369.6 L401.8,369.6 L402.5,369.3 L403.1,369.0 L403.7,369.6 L404.3,369.3 L404.9,369.7 L405.5,369.5 L406.1,369.6 L406.8,369.2 L407.4,369.7 L408.0,369.3 L408.6,369.4 L409.2,369.8 L409.8,369.8 L410.5,369.4 L411.1,369.4 L411.7,369.6 L412.3,369.7 L412.9,369.6 L413.5,369.4 L414.1,369.5 L414.8,369.9 L415.4,370.0 L416.0,369.5 L416.6,369.8 L417.8,372.2 L419.0,374.3 L419.6,374.9 L420.2,374.5 L420.8,374.8 L421.4,374.9 L422.0,375.0 L422.6,374.8 L423.2,375.0 L423.8,375.1 L424.4,375.1 L425.0,375.3 L425.6,375.2 L426.2,375.2 L426.8,374.9 L427.5,375.3 L428.1,375.3 L428.7,375.1 L429.3,375.5 L429.9,375.5 L430.5,375.3 L431.2,375.1 L431.8,375.4 L432.4,375.1 L433.0,375.1 L434.0,372.0 L435.0,368.9 L435.6,369.2 L436.2,369.3 L436.9,369.0 L437.5,369.4 L438.1,369.0 L438.8,369.5 L439.4,369.6 L440.0,369.4 L440.6,369.1 L441.2,369.5 L441.9,369.4 L442.5,369.8 L443.1,369.3 L443.8,369.8 L444.4,369.9 L445.0,369.8 L445.6,369.8 L446.2,369.4 L446.8,370.0 L447.4,369.6 L448.0,370.0 L448.6,369.9 L449.2,369.4 L449.8,369.9 L450.4,370.0 L451.0,369.4 L451.6,369.6 L452.2,369.9 L452.8,369.5 L453.4,370.0 L454.0,369.6 L454.6,369.9 L455.2,369.5 L455.8,369.7 L456.4,370.0 L457.0,369.6 L457.6,369.6 L458.2,369.8 L458.8,369.7 L459.4,369.5 L460.0,369.6 L460.7,369.4 L461.3,369.7 L462.0,369.3 L462.6,369.5 L463.2,369.0 L463.9,369.4 L464.5,368.9 L465.1,369.2 L465.7,369.3 L466.3,369.1 L466.9,369.5 L467.6,369.2 L468.2,369.3 L468.8,369.5 L469.4,368.9 L470.0,369.5 L470.7,369.3 L471.3,369.1 L471.9,369.4 L472.5,369.0 L473.1,369.5 L473.7,369.3 L474.4,369.1 L475.0,369.4 L475.6,369.2 L476.6,371.8 L477.3,373.8 L478.0,375.0 L478.6,375.6 L479.3,375.3 L479.9,375.6 L480.5,375.9 L481.2,375.7 L481.8,375.8 L482.5,375.6 L483.1,375.5 L483.7,375.5 L484.4,375.7 L485.0,376.1 L485.6,375.9 L486.2,376.0 L486.8,376.2 L487.5,375.7 L488.1,375.7 L488.7,376.0 L489.3,375.6 L489.9,375.5 L490.5,375.8 L491.2,375.6 L491.8,375.7 L492.4,375.6 L493.0,375.9 L493.7,374.9 L494.3,373.7 L495.0,373.1 L495.8,371.2 L496.5,369.1 L497.2,369.4 L498.0,368.6 L498.6,368.6 L499.2,368.6 L499.8,369.0 L500.4,369.2 L501.0,369.2 L501.6,368.9 L502.2,368.9 L502.8,368.7 L503.4,369.2 L504.0,369.2 L504.6,369.1 L505.2,369.3 L505.8,369.2 L506.4,369.6 L507.0,369.5 L507.6,369.2 L508.2,369.7 L508.8,369.1 L509.4,369.5 L510.0,369.4 L510.6,369.4 L511.2,369.3 L511.8,369.8 L512.4,369.3 L513.0,369.7 L513.7,370.0 L514.3,369.5 L514.9,369.6 L515.5,369.9 L516.1,369.8 L516.7,370.0 L517.3,370.1 L517.9,369.7 L518.5,369.8 L519.1,369.9 L519.8,369.7 L520.4,370.4 L521.0,370.3 L521.6,370.3 L522.2,369.8 L522.8,370.5 L523.4,370.4 L524.0,370.3 L524.6,370.5 L525.2,370.3 L525.8,370.2 L526.5,370.2 L527.1,370.3 L527.7,370.2 L528.3,370.4 L528.9,370.7 L529.5,370.6" fill="none" stroke="#1f6417" stroke-width="2.2" stroke-linejoin="round" stroke-linecap="round"/>
<line x1="306.9" y1="223.8" x2="318.4" y2="223.8" stroke="#5a7f66" stroke-width="0.8"/>
<polygon points="306.9,223.8 309.5,222.5 309.5,225.10000000000002" fill="#5a7f66"/><polygon points="318.4,223.8 315.8,222.5 315.8,225.10000000000002" fill="#5a7f66"/>
<line x1="329.3" y1="223.8" x2="347.6" y2="223.8" stroke="#8a4a3a" stroke-width="0.8"/>
<polygon points="329.3,223.8 331.9,222.5 331.9,225.10000000000002" fill="#8a4a3a"/><polygon points="347.6,223.8 345.0,222.5 345.0,225.10000000000002" fill="#8a4a3a"/>
<line x1="363.3" y1="223.8" x2="387.1" y2="223.8" stroke="#3a48b8" stroke-width="0.8"/>
<polygon points="363.3,223.8 365.9,222.5 365.9,225.10000000000002" fill="#3a48b8"/><polygon points="387.1,223.8 384.5,222.5 384.5,225.10000000000002" fill="#3a48b8"/>
<line x1="402.3" y1="223.5" x2="435.0" y2="223.5" stroke="#8a5a4a" stroke-width="0.8"/>
<polygon points="402.3,223.5 404.9,222.2 404.9,224.8" fill="#8a5a4a"/><polygon points="435.0,223.5 432.4,222.2 432.4,224.8" fill="#8a5a4a"/>
<line x1="417.6" y1="227.6" x2="435.0" y2="227.6" stroke="#5a7f66" stroke-width="0.8"/>
<polygon points="417.6,227.6 420.2,226.29999999999998 420.2,228.9" fill="#5a7f66"/><polygon points="435.0,227.6 432.4,226.29999999999998 432.4,228.9" fill="#5a7f66"/>
<line x1="462.7" y1="223.5" x2="496.0" y2="223.5" stroke="#3a48b8" stroke-width="0.8"/>
<polygon points="462.7,223.5 465.3,222.2 465.3,224.8" fill="#3a48b8"/><polygon points="496.0,223.5 493.4,222.2 493.4,224.8" fill="#3a48b8"/>
<line x1="476.5" y1="227.6" x2="496.0" y2="227.6" stroke="#5a7f66" stroke-width="0.8"/>
<polygon points="476.5,227.6 479.1,226.29999999999998 479.1,228.9" fill="#5a7f66"/><polygon points="496.0,227.6 493.4,226.29999999999998 493.4,228.9" fill="#5a7f66"/>
</g>
<rect x="296" y="208" width="28" height="15" fill="#e9faf3"/>
<rect x="321" y="197" width="33" height="26" fill="#fef0f3"/>
<text x="297.3" y="218.4" font-size="11" fill="#4d8a5c" stroke="#4d8a5c" stroke-width="0.3" font-weight="normal" textLength="25.3" lengthAdjust="spacingAndGlyphs" >Press</text>
<text x="322.9" y="207.7" font-size="10.4" fill="#a8443a" stroke="#a8443a" stroke-width="0.3" font-weight="normal" textLength="29.1" lengthAdjust="spacingAndGlyphs" >Strain</text>
<text x="331.0" y="220.2" font-size="10.4" fill="#a8443a" stroke="#a8443a" stroke-width="0.3" font-weight="normal" textLength="12.8" lengthAdjust="spacingAndGlyphs" >(x)</text>
<text x="360.8" y="207.7" font-size="10.4" fill="#2c36ae" stroke="#2c36ae" stroke-width="0.3" font-weight="normal" textLength="28.8" lengthAdjust="spacingAndGlyphs" >Strain</text>
<text x="369.2" y="220.2" font-size="10.4" fill="#2c36ae" stroke="#2c36ae" stroke-width="0.3" font-weight="normal" textLength="12.3" lengthAdjust="spacingAndGlyphs" >(y)</text>
<text x="237.2" y="271.7" font-size="10.4" fill="#1f1f1f" stroke="#1f1f1f" stroke-width="0.3" font-weight="normal" textLength="29.6" lengthAdjust="spacingAndGlyphs" >Strain</text>
<text x="245.8" y="284.4" font-size="10.4" fill="#1f1f1f" stroke="#1f1f1f" stroke-width="0.3" font-weight="normal" textLength="12.7" lengthAdjust="spacingAndGlyphs" >(x)</text>
<text x="237.2" y="318.2" font-size="10.4" fill="#1f1f1f" stroke="#1f1f1f" stroke-width="0.3" font-weight="normal" textLength="29.6" lengthAdjust="spacingAndGlyphs" >Strain</text>
<text x="245.8" y="330.4" font-size="10.4" fill="#1f1f1f" stroke="#1f1f1f" stroke-width="0.3" font-weight="normal" textLength="12.7" lengthAdjust="spacingAndGlyphs" >(y)</text>
<text x="223.6" y="380.5" font-size="10.4" fill="#1f1f1f" stroke="#1f1f1f" stroke-width="0.3" font-weight="normal" textLength="42.5" lengthAdjust="spacingAndGlyphs" >Pressure</text>
<text x="380.8" y="423.6" font-size="18" fill="#111" textLength="66" lengthAdjust="spacingAndGlyphs">Time [s]</text>
</svg></body></html>
